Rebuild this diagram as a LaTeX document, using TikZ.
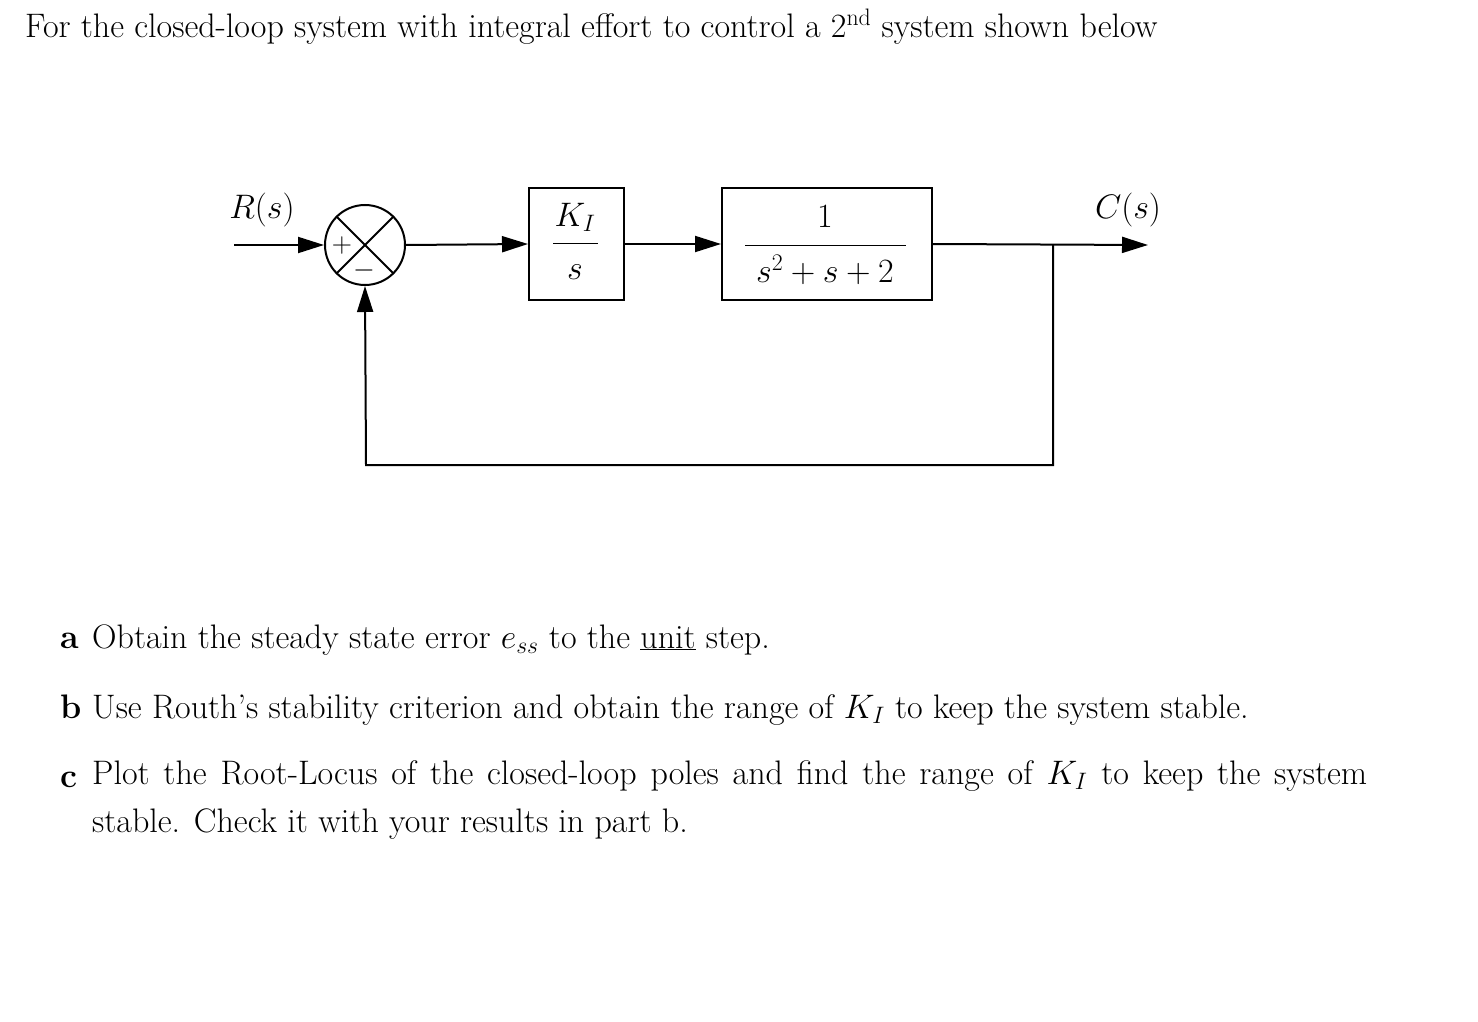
\RequirePackage{fix-cm}
\documentclass[tikz,border=0pt]{standalone}
\usetikzlibrary{arrows.meta}
\begin{document}
\begin{tikzpicture}[x=1pt,y=-1pt,
  txt/.style={inner sep=0pt,font=\fontsize{34}{48}\selectfont},
  blk/.style={draw,line width=2pt,minimum width=95pt,minimum height=112pt,inner sep=0pt},
  ln/.style={line width=2pt},
  arr/.style={ln,-{Triangle[length=26pt,width=16pt]}}]
\useasboundingbox (0,0) rectangle (1478,1022);
\node[txt,anchor=base west] (title) at (25,38) {For the closed-loop system with integral effort to control a 2\textsuperscript{nd} system shown below};
\coordinate (in) at (234,245);
\node[draw,circle,line width=2pt,minimum size=80pt,inner sep=0pt] (sum) at (365,245) {};
\draw[ln] (sum.north west) -- (sum.south east) (sum.north east) -- (sum.south west);
\node[txt,font=\fontsize{28}{28}\selectfont] at (342,245) {$+$};
\node[txt,font=\fontsize{28}{28}\selectfont] at (364,270) {$-$};
\node[blk,anchor=west] (b1) at (528,244) {};
\node[txt] at (575,217) {$K_I$};
\draw[line width=1pt] (553,243) -- (598,243);
\node[txt] at (575,272) {$s$};
\node[blk,minimum width=210pt,anchor=west] (b2) at (721,244) {};
\node[txt] at (825,217) {$1$};
\draw[line width=1pt] (745,245) -- (906,245);
\node[txt] at (825,270) {$s^2+s+2$};
\coordinate (out) at (1148,245);
\coordinate (tap) at (1053,245);
\coordinate (fb1) at (1053,465);
\coordinate (fb2) at (366,465);
\node[txt] (R) at (262,210) {$R(s)$};
\node[txt] (C) at (1128,210) {$C(s)$};
\draw[arr] (in) -- (sum.west);
\draw[arr] (sum.east) -- (b1.west);
\draw[arr] (b1.east) -- (b2.west);
\draw[arr] (b2.east) -- (out);
\draw[arr] (tap) -- (fb1) -- (fb2) -- (sum.south);
\node[txt,anchor=base west] (la) at (60,648) {\textbf{a}};
\node[txt,anchor=base west] (ta) at (92,648) {Obtain the steady state error $e_{ss}$ to the \underline{unit} step.};
\node[txt,anchor=base west] (lb) at (60,718) {\textbf{b}};
\node[txt,anchor=base west] (tb) at (92,718) {Use Routh's stability criterion and obtain the range of $K_I$ to keep the system stable.};
\node[txt,anchor=base west] (lc) at (60,787) {\textbf{c}};
\node[txt,anchor=north west,text width=1275pt,align=justify] (tc) at (92,760) {Plot the Root-Locus of the closed-loop poles and find the range of $K_I$ to keep the system stable. Check it with your results in part b.};
\end{tikzpicture}
\end{document}
